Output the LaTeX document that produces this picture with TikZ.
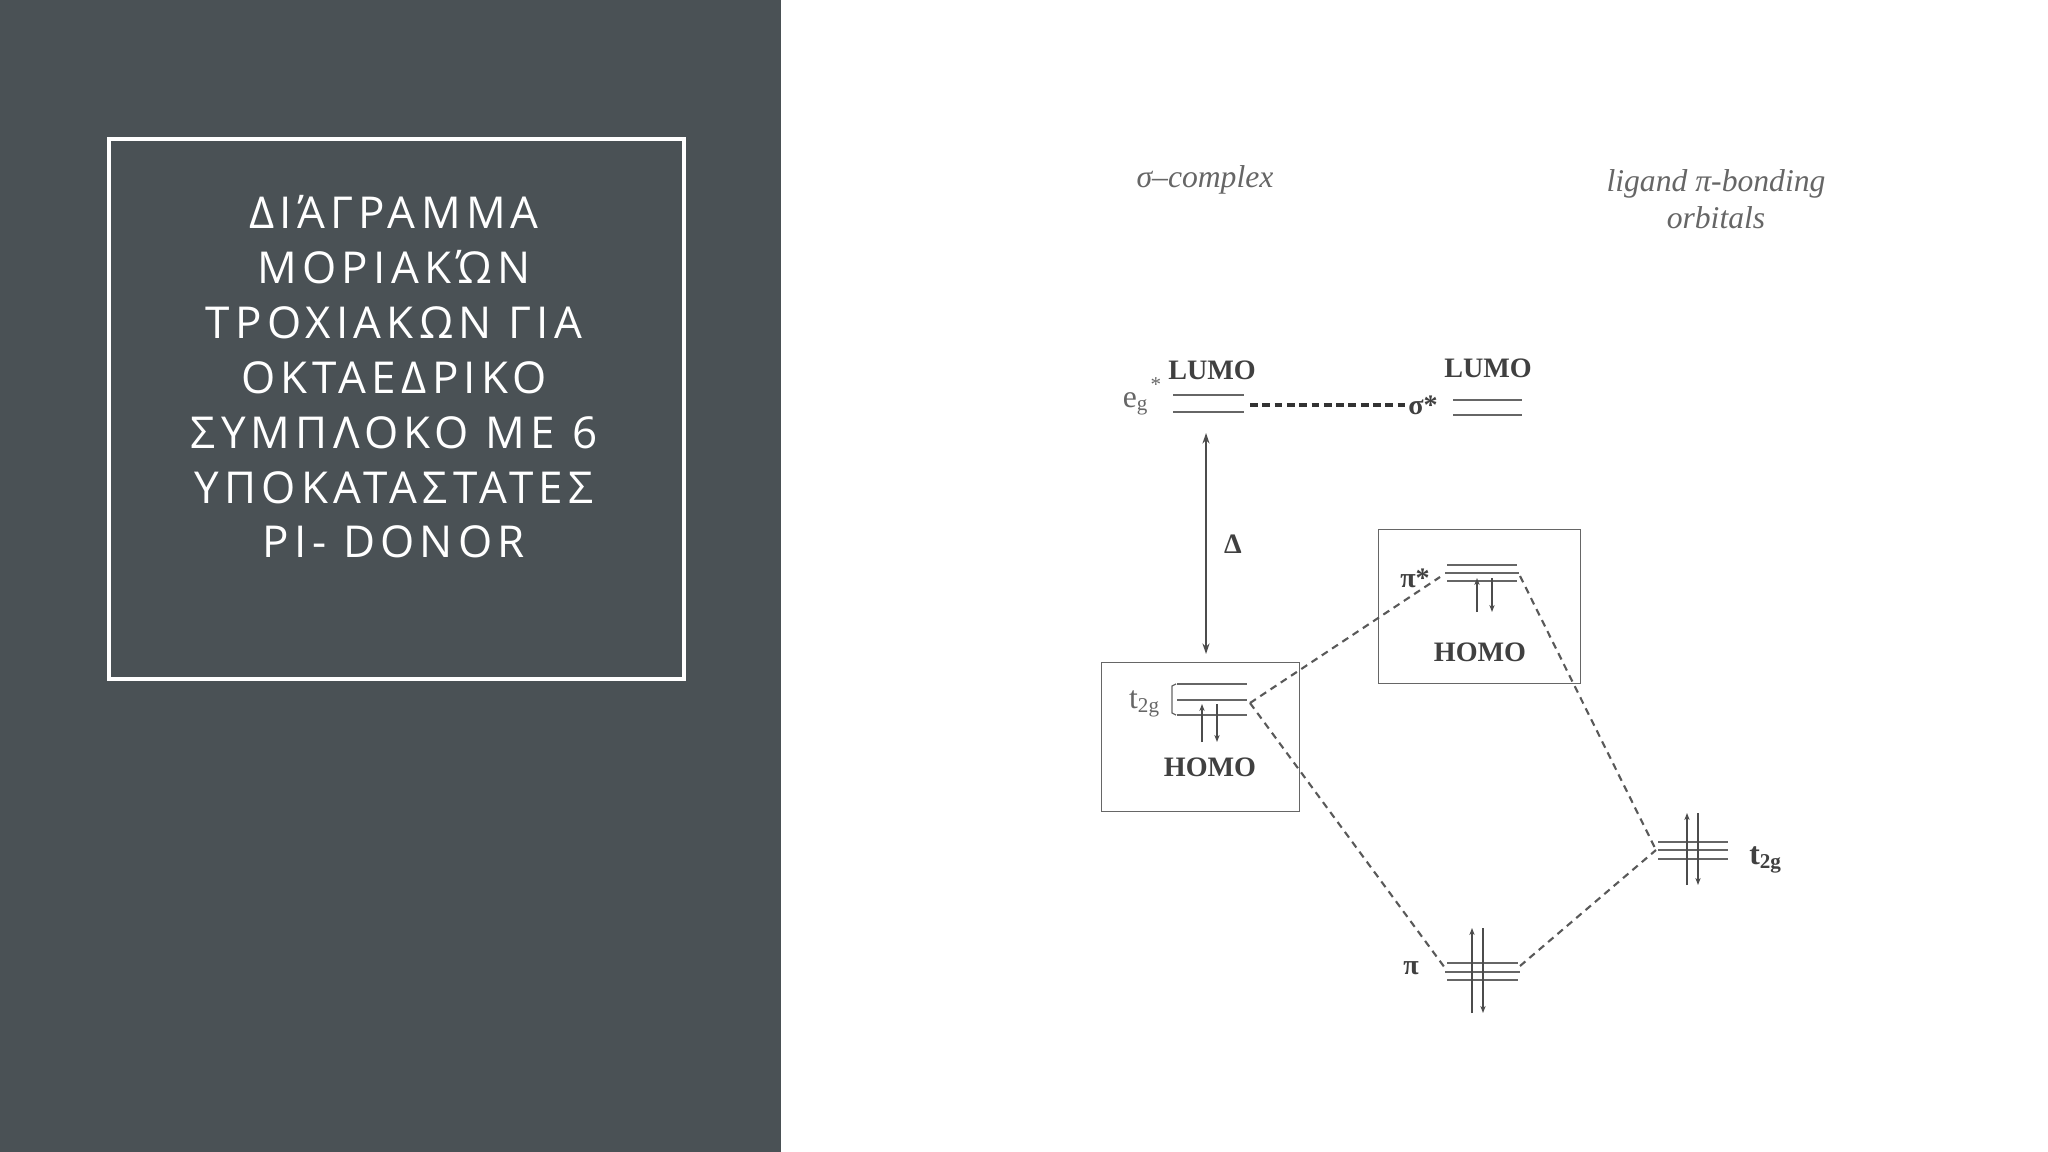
\documentclass[tikz,border=0pt]{standalone}
\usepackage{fontspec}
\usetikzlibrary{arrows.meta}
\setmainfont{Liberation Serif}
\newfontfamily\titlefont{Open Sans}[LetterSpace=12]
\begin{document}
\begin{tikzpicture}[x=0.01cm,y=-0.01cm,
  lvl/.style={draw=black!60,line width=0.35pt},
  conn/.style={draw=black!65,line width=0.6pt,dash pattern=on 2pt off 1.5pt},
  txt/.style={text=black!75,font=\fontsize{8}{9}\selectfont\bfseries,inner sep=0},
  itxt/.style={text=black!60,font=\fontsize{9}{10.5}\selectfont\itshape,inner sep=0,align=center},
  boxx/.style={draw=black!60,line width=0.4pt,fill=none},
  spin/.style={draw=black!70,line width=0.35pt,-{Stealth[length=2pt,width=1.5pt]}}]
\useasboundingbox (0,0) rectangle (2048,1152);
\fill[white] (0,0) rectangle (2048,1152);
\fill[fill={rgb,255:red,74;green,81;blue,85}] (0,0) rectangle (781,1152);
\node[draw=white,line width=1.1pt,minimum width=575*0.01cm,minimum height=540*0.01cm,anchor=north west] (frame) at (107,137) {};
\node[text=white,align=center,font=\titlefont\fontsize{12.5}{15.6}\selectfont,inner sep=0] (title) at (394,377)
{ΔΙΆΓΡΑΜΜΑ\\ΜΟΡΙΑΚΏΝ\\ΤΡΟΧΙΑΚΩΝ ΓΙΑ\\ΟΚΤΑΕΔΡΙΚΟ\\ΣΥΜΠΛΟΚΟ ΜΕ 6\\ΥΠΟΚΑΤΑΣΤΑΤΕΣ\\PI- DONOR};
% headers
\node[itxt] (h1) at (1205,180) {σ–complex};
\node[itxt] (h2) at (1716,199) {ligand π-bonding\\orbitals};
% eg*
\draw[lvl] (1173,395) -- (1244,395);
\draw[lvl] (1173,412) -- (1244,412);
\coordinate (egR) at (1250,405);
\node[txt,font=\fontsize{9}{10}\selectfont,text=black!60] (eg) at (1136,404) {e$_{\mathrm g}$};
\node[text=black!60,inner sep=0,font=\fontsize{6}{6}\selectfont] (star) at (1156,385) {*};
\node[txt] (lumo1) at (1212,370) {LUMO};
\node[txt] (sigs) at (1423,405) {σ*};
\coordinate (sigL) at (1410,405);
\draw[lvl] (1453,400) -- (1522,400);
\draw[lvl] (1453,415) -- (1522,415);
\node[txt] (lumo2) at (1488,368) {LUMO};
\draw[black!80,line width=0.9pt,dash pattern=on 2.2pt off 1.3pt] (egR) -- (sigL);
% Delta
\coordinate (dTop) at (1206,433);
\coordinate (dBot) at (1206,654);
\draw[draw=black!70,line width=0.4pt,{Stealth[length=3pt,width=2pt]}-{Stealth[length=3pt,width=2pt]}] (dTop) -- (dBot);
\node[txt] (delta) at (1233,544) {Δ};
% left box
\node[boxx,minimum width=198*0.01cm,minimum height=149*0.01cm,anchor=north west] (lbox) at (1101,662) {};
\draw[lvl] (1177,684) -- (1247,684);
\draw[lvl] (1177,700) -- (1247,700);
\draw[lvl] (1177,715) -- (1247,715);
\draw[lvl] (1176,684) -- (1172,686) -- (1172,713) -- (1176,715);
\coordinate (t2gL) at (1250,703);
\node[txt,font=\fontsize{9}{10}\selectfont,text=black!60] (t2g1) at (1145,704) {t$_{\mathrm{2g}}$};
\draw[spin] (1202,742) -- (1202,704);
\draw[spin] (1217,704) -- (1217,742);
\node[txt] (homo1) at (1210,767) {HOMO};
% right box
\node[boxx,minimum width=202*0.01cm,minimum height=154*0.01cm,anchor=north west] (rbox) at (1378,529) {};
\draw[lvl] (1447,565) -- (1517,565);
\draw[lvl] (1445,573) -- (1519,573);
\draw[lvl] (1447,581) -- (1517,581);
\coordinate (psL) at (1440,577);
\coordinate (psR) at (1520,576);
\node[txt] (pis) at (1415,578) {π*};
\draw[spin] (1477,612) -- (1477,578);
\draw[spin] (1492,578) -- (1492,612);
\node[txt] (homo2) at (1480,652) {HOMO};
% right t2g
\draw[lvl] (1658,842) -- (1728,842);
\draw[lvl] (1658,850) -- (1728,850);
\draw[lvl] (1658,859) -- (1728,859);
\coordinate (t2R) at (1656,850);
\draw[spin] (1687,885) -- (1687,813);
\draw[spin] (1698,813) -- (1698,885);
\node[txt,font=\fontsize{9}{10}\selectfont\bfseries] (t2g2) at (1766,860) {t$_{\mathbf{2g}}$};
% pi lower
\draw[lvl] (1447,963) -- (1518,963);
\draw[lvl] (1445,972) -- (1520,972);
\draw[lvl] (1447,980) -- (1518,980);
\coordinate (piL) at (1445,968);
\coordinate (piR) at (1520,966);
\draw[spin] (1472,1013) -- (1472,928);
\draw[spin] (1483,928) -- (1483,1013);
\node[txt] (pi) at (1411,968) {π};
% connectors
\draw[conn] (t2gL) -- (psL);
\draw[conn] (t2gL) -- (piL);
\draw[conn] (psR) -- (t2R);
\draw[conn] (piR) -- (t2R);
\end{tikzpicture}
\end{document}
